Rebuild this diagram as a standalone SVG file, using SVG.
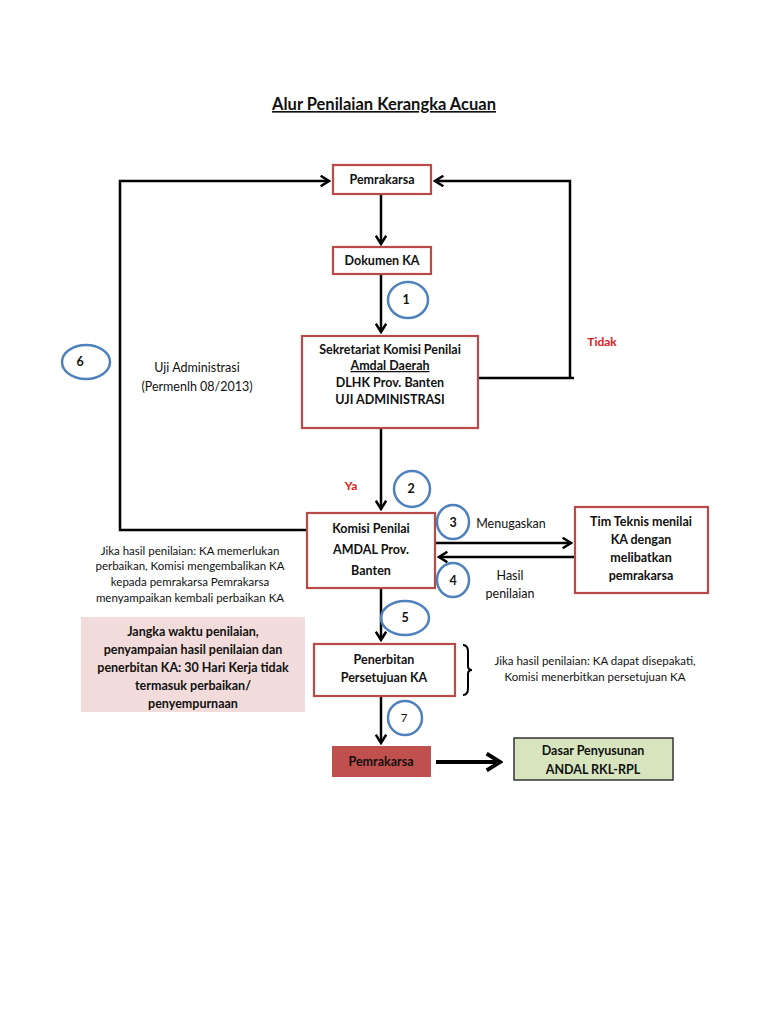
<svg xmlns="http://www.w3.org/2000/svg" width="768" height="1024" viewBox="0 0 768 1024">
<style>
text{font-family:Lato,"Open Sans","Liberation Sans",sans-serif;fill:#111;text-anchor:middle}
.b{font-weight:bold;font-size:12.5px}
.n{font-size:12.5px}
.s{font-size:11.5px}
.red{fill:#e02020;font-weight:bold;font-size:12px}
.box{fill:#fff;stroke:#b94a48;stroke-width:2.2}
.c{fill:none;stroke:#4f81bd;stroke-width:2.5}
.ln{fill:none;stroke:#000;stroke-width:2.5}
</style>
<defs>
<marker id="ah" viewBox="0 0 12 12" refX="10" refY="6" markerWidth="5" markerHeight="5" orient="auto" markerUnits="strokeWidth">
<polyline points="2,1 10,6 2,11" fill="none" stroke="#000" stroke-width="2.4"/>
</marker>
</defs>
<text x="384" y="110" style="font-weight:bold;font-size:16.5px;text-decoration:underline">Alur Penilaian Kerangka Acuan</text>

<g id="connectors">
<line class="ln" x1="381" y1="194" x2="381" y2="244" marker-end="url(#ah)"/>
<line class="ln" x1="381" y1="274" x2="381" y2="332" marker-end="url(#ah)"/>
<polyline class="ln" points="478,378 574,378"/>
<polyline class="ln" points="570,378 570,181 435,181" marker-end="url(#ah)"/>
<polyline class="ln" points="307,530 120,530 120,181 329,181" marker-end="url(#ah)"/>
<line class="ln" x1="381" y1="428" x2="381" y2="509" marker-end="url(#ah)"/>
<line class="ln" x1="435" y1="543" x2="571" y2="543" marker-end="url(#ah)"/>
<line class="ln" x1="575" y1="557" x2="439" y2="557" marker-end="url(#ah)"/>
<line class="ln" x1="381" y1="588" x2="381" y2="640" marker-end="url(#ah)"/>
<line class="ln" x1="381" y1="696" x2="381" y2="743" marker-end="url(#ah)"/>
<line x1="436" y1="762" x2="500" y2="762" stroke="#000" stroke-width="4" marker-end="url(#ah)"/>
<path d="M463,645 Q468,645 468,652 L468,666 Q468,670 472,670 Q468,670 468,674 L468,688 Q468,695 463,695" fill="none" stroke="#000" stroke-width="2"/>
</g>

<g id="n-pemrakarsa1"><rect class="box" x="333" y="165" width="98" height="29"/><text class="b" x="382" y="184">Pemrakarsa</text></g>
<g id="n-dokumen"><rect class="box" x="333" y="247" width="98" height="27"/><text class="b" x="382" y="265">Dokumen KA</text></g>
<g id="n-sekretariat"><rect class="box" x="302" y="336" width="176" height="92"/>
<text class="b" x="390" y="354">Sekretariat Komisi Penilai</text>
<text class="b" x="390" y="370" style="text-decoration:underline">Amdal Daerah</text>
<text class="b" x="390" y="387">DLHK Prov. Banten</text>
<text class="b" x="390" y="404">UJI ADMINISTRASI</text></g>
<g id="n-komisi"><rect class="box" x="307" y="513" width="128" height="75"/>
<text class="b" x="371" y="533">Komisi Penilai</text>
<text class="b" x="371" y="554">AMDAL Prov.</text>
<text class="b" x="371" y="575">Banten</text></g>
<g id="n-timteknis"><rect class="box" x="575" y="507" width="133" height="86"/>
<text class="b" x="641" y="526">Tim Teknis menilai</text>
<text class="b" x="641" y="544">KA dengan</text>
<text class="b" x="641" y="562">melibatkan</text>
<text class="b" x="641" y="580">pemrakarsa</text></g>
<g id="n-penerbitan"><rect class="box" x="314" y="644" width="141" height="52"/>
<text class="b" x="384" y="664">Penerbitan</text>
<text class="b" x="384" y="682">Persetujuan KA</text></g>
<g id="n-pemrakarsa2"><rect x="332" y="746" width="99" height="31" fill="#c0504d"/><text class="b" x="381" y="766">Pemrakarsa</text></g>
<g id="n-dasar"><rect x="514" y="738" width="159" height="42" fill="#d7e4bd" stroke="#333" stroke-width="1.5"/>
<text class="b" x="593" y="755">Dasar Penyusunan</text>
<text class="b" x="593" y="774">ANDAL  RKL-RPL</text></g>
<g id="n-jangka"><rect x="81" y="617" width="224" height="95" fill="#f2dcdb"/>
<text class="b" x="193" y="636">Jangka waktu penilaian,</text>
<text class="b" x="193" y="654">penyampaian hasil penilaian dan</text>
<text class="b" x="193" y="672">penerbitan KA: 30 Hari Kerja tidak</text>
<text class="b" x="193" y="690">termasuk perbaikan/</text>
<text class="b" x="193" y="708">penyempurnaan</text></g>

<g id="labels">
<ellipse class="c" cx="408" cy="300" rx="20" ry="18"/><text class="b" x="406" y="304">1</text>
<ellipse class="c" cx="412" cy="489" rx="18" ry="18"/><text class="b" x="411" y="493">2</text>
<ellipse class="c" cx="453" cy="522" rx="16" ry="17"/><text class="b" x="453" y="527">3</text>
<ellipse class="c" cx="453" cy="580" rx="16" ry="17"/><text class="b" x="453" y="585">4</text>
<ellipse class="c" cx="405" cy="618" rx="24" ry="17"/><text class="b" x="405" y="622">5</text>
<ellipse class="c" cx="86" cy="362" rx="24" ry="17"/><text class="b" x="80" y="366">6</text>
<ellipse class="c" cx="405" cy="718" rx="17" ry="17"/><text class="s" x="404" y="722">7</text>
<text class="red" x="602" y="346">Tidak</text>
<text class="red" x="351" y="490">Ya</text>
<text class="n" x="197" y="372">Uji Administrasi</text>
<text class="n" x="197" y="391">(Permenlh 08/2013)</text>
<text class="n" x="511" y="528">Menugaskan</text>
<text class="n" x="510" y="580">Hasil</text>
<text class="n" x="510" y="598">penilaian</text>
<text class="s" x="190" y="555">Jika hasil penilaian: KA memerlukan</text>
<text class="s" x="190" y="570">perbaikan, Komisi mengembalikan KA</text>
<text class="s" x="190" y="586">kepada pemrakarsa  Pemrakarsa</text>
<text class="s" x="190" y="602">menyampaikan kembali perbaikan KA</text>
<text class="s" x="595" y="665">Jika hasil penilaian: KA dapat disepakati,</text>
<text class="s" x="595" y="681">Komisi menerbitkan persetujuan KA</text>
</g>
</svg>
